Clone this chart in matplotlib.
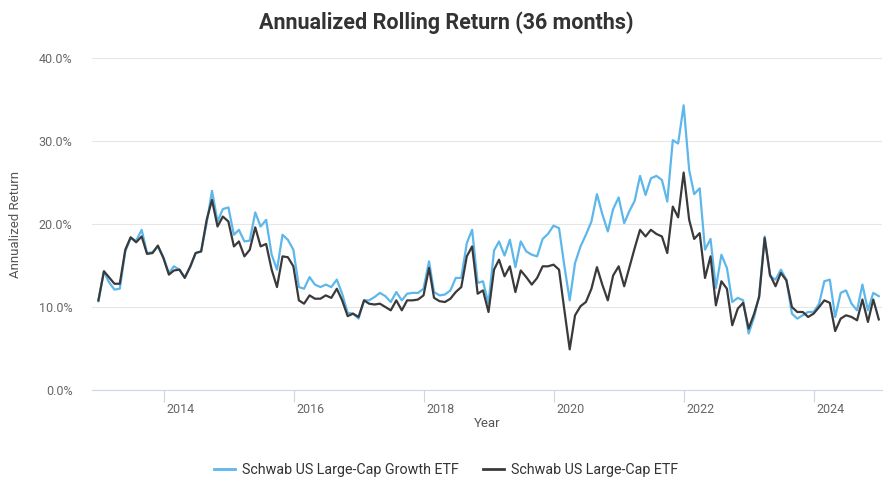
import matplotlib
matplotlib.use("Agg")
import matplotlib.pyplot as plt
import matplotlib.dates as mdates
import matplotlib.transforms as mtransforms
from matplotlib.lines import Line2D
import pandas as pd

plt.rcParams["font.family"] = ["Roboto", "DejaVu Sans"]

# Monthly 36-month rolling returns (%), Dec 2012 .. Dec 2024
start_month = "2012-12-31"
n_months = 145

growth_etf = [
    10.7, 14.3, 13.0, 12.1, 12.2, 16.7, 18.3, 18.0, 19.3, 16.5,
    16.6, 17.3, 16.0, 14.1, 14.9, 14.5, 13.6, 14.8, 16.5, 16.7,
    20.1, 24.0, 20.3, 21.8, 22.0, 18.7, 19.3, 17.9, 18.0, 21.4,
    19.7, 20.5, 16.3, 14.5, 18.7, 18.1, 16.9, 12.4, 12.2, 13.6,
    12.7, 12.4, 12.7, 12.4, 13.3, 11.6, 9.3, 9.2, 8.6, 10.8,
    10.8, 11.2, 11.7, 11.3, 10.6, 11.8, 10.8, 11.6, 11.7, 11.7,
    12.2, 15.5, 11.8, 11.4, 11.5, 12.0, 13.5, 13.5, 17.7, 19.3,
    12.9, 13.1, 10.4, 16.8, 17.9, 16.2, 18.1, 14.8, 17.9, 16.7,
    16.3, 16.1, 18.2, 18.8, 19.8, 19.5, 15.1, 10.8, 15.3, 17.3,
    18.7, 20.3, 23.6, 21.2, 19.1, 21.8, 23.2, 20.1, 21.5, 22.8,
    25.8, 23.5, 25.5, 25.8, 25.3, 22.7, 30.1, 29.7, 34.3, 26.5,
    23.6, 24.3, 16.9, 18.2, 12.3, 16.3, 14.7, 10.6, 11.1, 10.8,
    6.8, 8.8, 11.4, 18.5, 13.7, 13.3, 14.5, 13.3, 9.2, 8.6,
    9.0, 9.4, 9.4, 10.4, 13.1, 13.3, 8.8, 11.7, 12.0, 10.4,
    9.6, 12.7, 9.6, 11.7, 11.3,
]

largecap_etf = [
    10.8, 14.3, 13.6, 12.8, 12.8, 16.9, 18.4, 17.8, 18.5, 16.4,
    16.5, 17.4, 15.9, 13.9, 14.4, 14.5, 13.5, 14.9, 16.5, 16.7,
    20.5, 22.9, 19.7, 20.9, 20.3, 17.3, 17.9, 16.1, 16.9, 19.6,
    17.3, 17.6, 14.5, 12.4, 16.1, 16.0, 14.9, 10.8, 10.4, 11.4,
    11.0, 11.0, 11.4, 11.1, 12.2, 10.8, 8.9, 9.2, 8.8, 10.8,
    10.4, 10.3, 10.4, 10.0, 9.6, 10.8, 9.6, 10.8, 10.8, 10.9,
    11.4, 14.7, 11.1, 10.7, 10.6, 11.0, 11.8, 12.4, 16.1, 17.3,
    11.6, 12.0, 9.4, 14.5, 15.7, 13.7, 14.9, 11.8, 14.4, 13.6,
    12.7, 13.5, 14.9, 14.9, 15.1, 14.5, 9.8, 4.9, 9.0, 10.1,
    10.6, 12.2, 14.8, 12.7, 10.8, 13.8, 14.9, 12.5, 14.7, 17.1,
    19.3, 18.5, 19.3, 18.8, 18.5, 16.5, 22.1, 20.8, 26.2, 20.5,
    18.2, 18.9, 13.5, 16.1, 10.2, 13.1, 12.2, 7.8, 9.8, 10.5,
    7.4, 9.2, 11.2, 18.3, 13.9, 12.5, 14.1, 13.2, 10.0, 9.4,
    9.4, 8.8, 9.2, 10.0, 10.8, 10.5, 7.1, 8.6, 9.0, 8.8,
    8.4, 10.9, 8.2, 10.9, 8.5,
]

series_names = ["Schwab US Large-Cap Growth ETF", "Schwab US Large-Cap ETF"]
series_colors = ["#5db7ea", "#3a3a3c"]
year_ticks = [2014, 2016, 2018, 2020, 2022, 2024]
y_ticks = [0, 10, 20, 30, 40]

dates = pd.date_range(start_month, periods=n_months, freq="ME")

W, H = 892, 490
fig = plt.figure(figsize=(W / 100, H / 100), dpi=100)
left, right, top, bottom = 92, 882, 58, 390
ax = fig.add_axes([left / W, 1 - bottom / H, (right - left) / W, (bottom - top) / H])

ax.plot(dates, growth_etf, color=series_colors[0], lw=1.6, zorder=3)
ax.plot(dates, largecap_etf, color=series_colors[1], lw=1.6, zorder=4)

ax.set_ylim(0, 40)
ax.set_xlim(pd.Timestamp("2012-11-25"), pd.Timestamp("2025-01-18"))

ax.set_yticks(y_ticks)
ax.set_yticklabels([f"{v:.1f}%" for v in y_ticks])
ax.grid(axis="y", color="#e6e6e6", lw=0.8)
ax.set_axisbelow(True)
ax.tick_params(axis="y", length=0, pad=14, labelsize=9, labelcolor="#666666")

ax.set_xticks([pd.Timestamp(f"{y}-01-01") for y in year_ticks])
ax.xaxis.set_major_formatter(mdates.DateFormatter("%Y"))
ax.tick_params(axis="x", length=8.5, width=0.8, color="#ccd6eb", pad=1,
               labelsize=9, labelcolor="#666666")
shift = mtransforms.ScaledTranslation(3 / 100, 0, fig.dpi_scale_trans)
for lab in ax.get_xticklabels():
    lab.set_horizontalalignment("left")
    lab.set_transform(lab.get_transform() + shift)

for s in ["top", "right", "left"]:
    ax.spines[s].set_visible(False)
ax.spines["bottom"].set_color("#ccd6eb")
ax.spines["bottom"].set_linewidth(0.8)

ax.set_xlabel("Year", fontsize=9.5, color="#555555")
ax.xaxis.set_label_coords(0.5, -(423 - bottom) / (bottom - top))
ax.xaxis.label.set_va("center")
ax.set_ylabel("Annualized Return", fontsize=9.5, color="#555555")
ax.yaxis.set_label_coords(-(left - 16) / (right - left), 0.5)
ax.yaxis.label.set_va("center")

fig.text(0.5, 1 - 23 / H, "Annualized Rolling Return (36 months)", ha="center",
         va="center", fontsize=15.5, fontweight="bold", color="#333333")

handles = [Line2D([], [], color=c, lw=2) for c in series_colors]
fig.legend(handles, series_names, loc="center", bbox_to_anchor=(0.5, 1 - 470 / H),
           ncol=2, frameon=False, fontsize=10.3, handlelength=1.5, handletextpad=0.45,
           columnspacing=1.7, labelcolor="#333333")

fig.savefig("out.png", dpi=100)
